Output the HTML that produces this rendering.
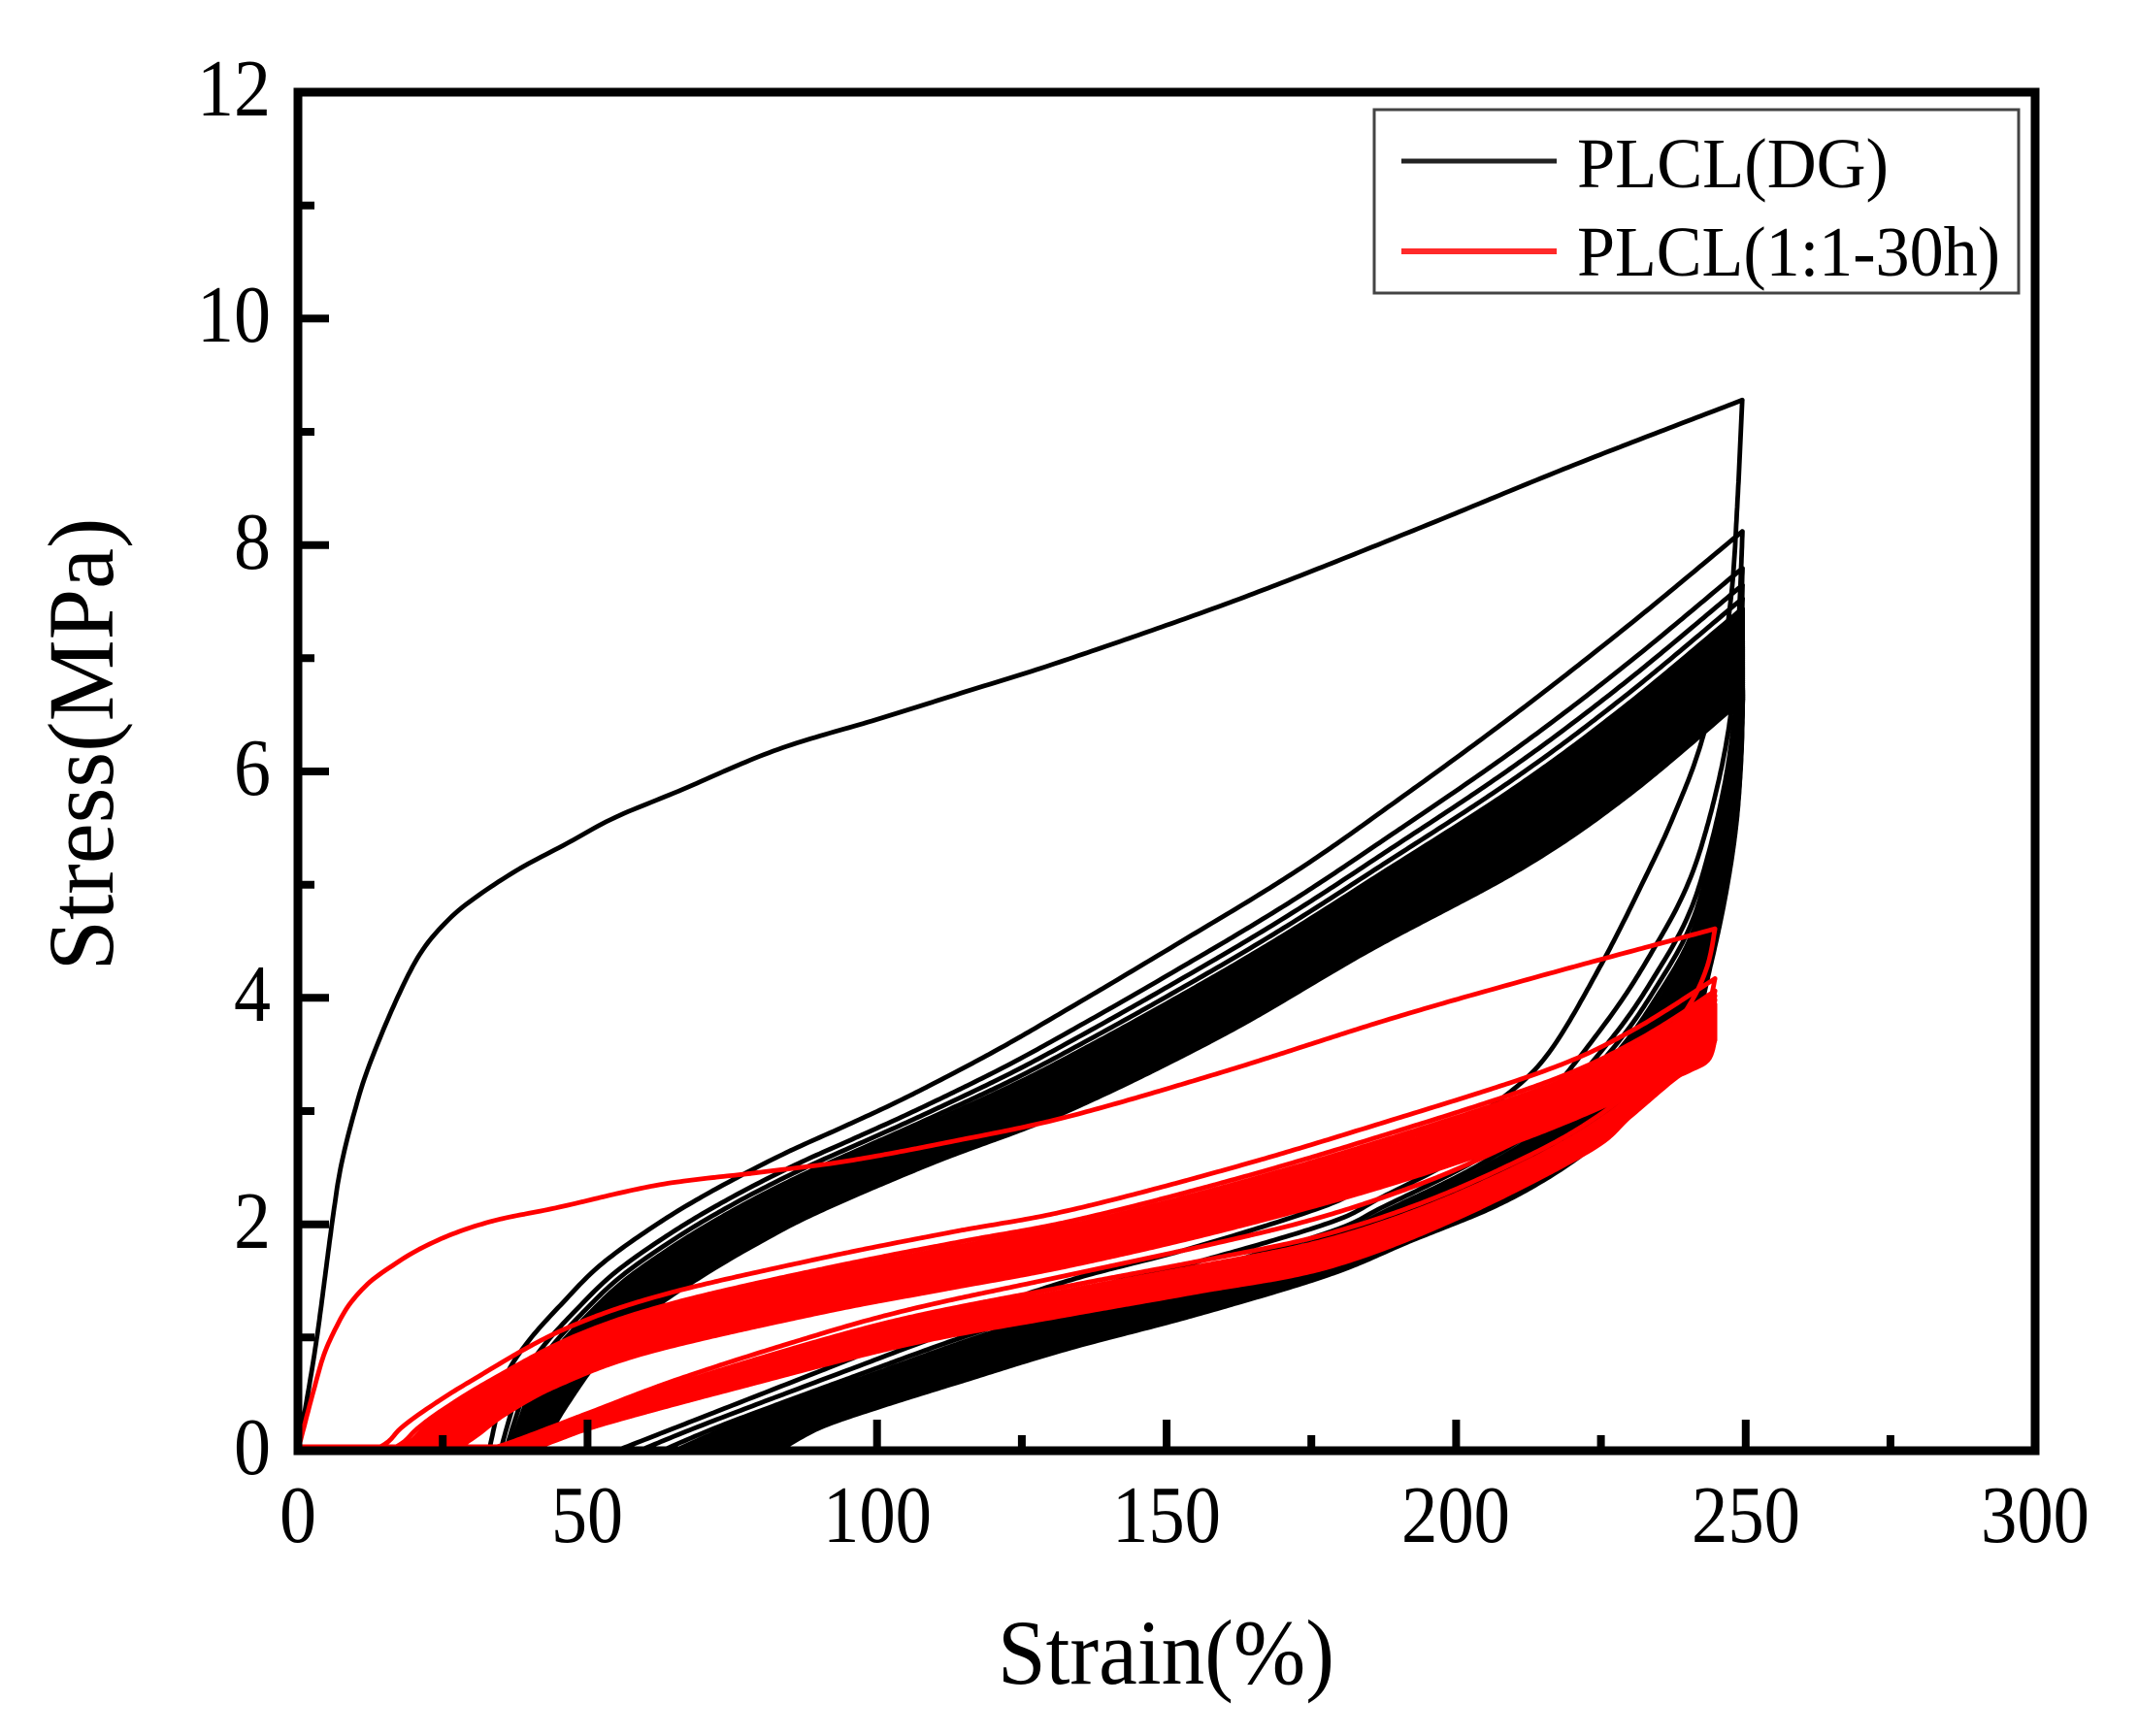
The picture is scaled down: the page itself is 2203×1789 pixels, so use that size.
<!DOCTYPE html>
<html><head><meta charset="utf-8">
<style>
html,body{margin:0;padding:0;background:#fff;}
svg{display:block;}
text{font-family:"Liberation Serif","Times New Roman",serif;fill:#000;}
</style></head>
<body>
<svg id="s" xmlns="http://www.w3.org/2000/svg" width="2203" height="1789" viewBox="0 0 2203 1789">
<rect width="2203" height="1789" fill="#fff"/>
<g id="blk" fill="none" stroke="#000" stroke-width="4.8" stroke-linejoin="round" stroke-linecap="round"></g>
<g id="red" fill="none" stroke="#ff0000" stroke-width="4.8" stroke-linejoin="round" stroke-linecap="round"></g>
<line x1="307" y1="1490" x2="545" y2="1490" stroke="#ff0000" stroke-width="3"/>
<g stroke="#000" fill="none">
 <rect x="307" y="95" width="1790" height="1400" stroke-width="9"/>
 <path stroke-width="8" d="M605.4 1495V1463M903.7 1495V1463M1202.1 1495V1463M1500.4 1495V1463M1798.8 1495V1463"/>
 <path stroke-width="8" d="M456.2 1495V1479M754.5 1495V1479M1052.9 1495V1479M1351.2 1495V1479M1649.6 1495V1479M1947.9 1495V1479"/>
 <path stroke-width="8" d="M307 1261.7H339M307 1028.3H339M307 795H339M307 561.7H339M307 328.3H339"/>
 <path stroke-width="8" d="M307 1378.3H324M307 1145H324M307 911.7H324M307 678.3H324M307 445H324M307 211.7H324"/>
</g>
<g font-size="84" text-anchor="end">
 <text x="279" y="1519" textLength="38" lengthAdjust="spacingAndGlyphs">0</text>
 <text x="279" y="1286" textLength="38" lengthAdjust="spacingAndGlyphs">2</text>
 <text x="279" y="1052" textLength="38" lengthAdjust="spacingAndGlyphs">4</text>
 <text x="279" y="819" textLength="38" lengthAdjust="spacingAndGlyphs">6</text>
 <text x="279" y="586" textLength="38" lengthAdjust="spacingAndGlyphs">8</text>
 <text x="279" y="352" textLength="76" lengthAdjust="spacingAndGlyphs">10</text>
 <text x="279" y="119" textLength="76" lengthAdjust="spacingAndGlyphs">12</text>
</g>
<g font-size="84" text-anchor="middle">
 <text x="307" y="1589" textLength="38" lengthAdjust="spacingAndGlyphs">0</text>
 <text x="605" y="1589" textLength="74" lengthAdjust="spacingAndGlyphs">50</text>
 <text x="904" y="1589" textLength="112" lengthAdjust="spacingAndGlyphs">100</text>
 <text x="1202" y="1589" textLength="112" lengthAdjust="spacingAndGlyphs">150</text>
 <text x="1500" y="1589" textLength="112" lengthAdjust="spacingAndGlyphs">200</text>
 <text x="1799" y="1589" textLength="112" lengthAdjust="spacingAndGlyphs">250</text>
 <text x="2097" y="1589" textLength="112" lengthAdjust="spacingAndGlyphs">300</text>
</g>
<text x="1028" y="1735" font-size="95" textLength="347" lengthAdjust="spacingAndGlyphs">Strain(%)</text>
<text transform="translate(116,767) rotate(-90)" text-anchor="middle" font-size="96" textLength="467" lengthAdjust="spacingAndGlyphs">Stress(MPa)</text>
<rect x="1416" y="113" width="664" height="189" fill="#fff" stroke="#444" stroke-width="3"/>
<line x1="1444" y1="166" x2="1604" y2="166" stroke="#222" stroke-width="5"/>
<line x1="1444" y1="259" x2="1604" y2="259" stroke="#ff2a2a" stroke-width="6"/>
<text x="1625" y="193" font-size="73" textLength="321" lengthAdjust="spacingAndGlyphs">PLCL(DG)</text>
<text x="1625" y="284" font-size="73" textLength="436" lengthAdjust="spacingAndGlyphs">PLCL(1:1-30h)</text>
</svg>
<script>
(function(){
var X0=307,XS=5.967,Y0=1495,YS=116.667;
function P(a){return a.map(function(p){return [X0+p[0]*XS, Y0-p[1]*YS];});}
function cr(pts,n){
 var out=[];
 for(var i=0;i<pts.length-1;i++){
  var p0=pts[Math.max(i-1,0)],p1=pts[i],p2=pts[i+1],p3=pts[Math.min(i+2,pts.length-1)];
  for(var j=0;j<n;j++){
   var t=j/n,t2=t*t,t3=t2*t,q=[0,0];
   for(var d=0;d<2;d++){
    q[d]=0.5*(2*p1[d]+(-p0[d]+p2[d])*t+(2*p0[d]-5*p1[d]+4*p2[d]-p3[d])*t2+(-p0[d]+3*p1[d]-3*p2[d]+p3[d])*t3);
   }
   out.push(q);
  }
 }
 out.push(pts[pts.length-1].slice());
 return out;
}
function rs(pts,m){
 var L=[0];
 for(var i=1;i<pts.length;i++){L.push(L[i-1]+Math.hypot(pts[i][0]-pts[i-1][0],pts[i][1]-pts[i-1][1]));}
 var tot=L[L.length-1],out=[],j=0;
 for(var k=0;k<m;k++){
  var s=tot*k/(m-1);
  while(j<pts.length-2&&L[j+1]<s)j++;
  var seg=L[j+1]-L[j],f=seg>0?(s-L[j])/seg:0;f=Math.min(1,Math.max(0,f));
  out.push([pts[j][0]+(pts[j+1][0]-pts[j][0])*f,pts[j][1]+(pts[j+1][1]-pts[j][1])*f]);
 }
 return out;
}
var M=400;
function C(a){return rs(cr(P(a),12),M);}
function mix(a,b,tf){var o=[];for(var i=0;i<a.length;i++){var t=tf(i/(a.length-1));o.push([a[i][0]+(b[i][0]-a[i][0])*t,a[i][1]+(b[i][1]-a[i][1])*t]);}return o;}
function dd(pts){var s='M'+pts[0][0].toFixed(1)+' '+pts[0][1].toFixed(1);for(var i=1;i<pts.length;i++)s+='L'+pts[i][0].toFixed(1)+' '+pts[i][1].toFixed(1);return s;}
function add(g,pts){var p=document.createElementNS('http://www.w3.org/2000/svg','path');p.setAttribute('d',dd(pts));g.appendChild(p);}
function ss(u){return u*u*(3-2*u);}
function fam(g,A,N){
 var L1=C(A.L1),U1=C(A.U1),R2=C(A.R2),RL=C(A.RL),UL=C(A.UL);
 var pk1=A.L1[A.L1.length-1][1],pk2=A.R2[A.R2.length-1][1],pkL=A.RL[A.RL.length-1][1];
 add(g,L1);add(g,U1);
 var ns=A.tr.length, nd=N-1-ns;
 for(var k=2;k<=N;k++){
  var j=k-2,tr,tb;
  if(j<ns){tr=A.tr[j];tb=A.tb[j];}
  else{var f=(j-ns)/(nd-1);tr=A.d0+(1-A.d0)*f;tb=A.b0+(1-A.b0)*f;}
  var Pk=pk2+(pkL-pk2)*tr;
  var tt=(pk1-Pk)/(pk1-pkL);
  add(g,mix(R2,RL,function(){return tr;}));
  add(g,mix(U1,UL,function(u){return tt+(tb-tt)*ss(u);}));
 }
}
var B={
 L1:[[0,0],[1.2,0.35],[3.3,1.01],[6,2.05],[7.5,2.53],[9.8,3.0],[12.2,3.39],[16.8,3.96],[21.1,4.39],[25.6,4.67],[30.2,4.87],[37.9,5.13],[46.3,5.36],[54.6,5.59],[65.9,5.83],[82.6,6.19],[100,6.46],[115,6.7],[132.9,6.99],[162.9,7.53],[192.7,8.13],[220,8.7],[249.4,9.28]],
 U1:[[249.4,9.28],[248.6,8.4],[247.6,7.6],[245.7,6.95],[242,6.2],[237.5,5.6],[233,5.1],[224.9,4.28],[215.2,3.46],[205,3.0],[196.4,2.7],[186,2.4],[177.8,2.17],[155,1.8],[132.9,1.5],[110,1.1],[90,0.7],[70,0.3],[55,0]],
 R2:[[33,0],[34.5,0.35],[36,0.67],[40,0.98],[45.6,1.3],[52,1.63],[60.5,1.95],[70,2.25],[83,2.6],[95,2.88],[105.4,3.13],[120,3.52],[132.9,3.9],[150,4.42],[171.8,5.1],[190,5.75],[210,6.5],[230,7.3],[249.4,8.12]],
 RL:[[42,0],[44,0.2],[47,0.45],[52,0.8],[60.5,1.22],[70,1.55],[80,1.85],[90.3,2.12],[110,2.55],[132.9,3.0],[160,3.68],[185,4.42],[211.5,5.15],[230,5.8],[249.5,6.64]],
 UL:[[249.5,6.64],[249.2,6.1],[248.3,5.5],[246.5,4.9],[244,4.3],[241.3,3.79],[236,3.35],[230,2.97],[220,2.55],[207.6,2.18],[192,1.85],[177.8,1.55],[155,1.2],[132.9,0.9],[115,0.62],[100,0.38],[90,0.2],[83,0]],
 tr:[0,0.22,0.32,0.4], tb:[0.14,0.28,0.36,0.42], d0:0.46, b0:0.46
};
var R={
 L1:[[0,0],[1.5,0.3],[2.7,0.53],[4.5,0.85],[6.7,1.1],[9,1.3],[12.2,1.48],[15.6,1.61],[20.6,1.77],[27,1.92],[34.5,2.04],[45,2.15],[62.5,2.35],[80,2.46],[95,2.56],[112.8,2.73],[132.9,2.95],[160,3.35],[189,3.82],[215,4.2],[244.7,4.61]],
 U1:[[244.7,4.61],[243.5,4.3],[241,4.0],[237,3.7],[232,3.45],[222,3.05],[210,2.72],[195,2.38],[177.8,2.08],[160,1.85],[132.9,1.55],[105,1.24],[85,0.95],[65,0.62],[50,0.33],[36,0.06],[31,0]],
 R2:[[13,0],[15.6,0.08],[17.8,0.2],[22,0.36],[30,0.62],[45,1.05],[62.5,1.37],[90.3,1.7],[112.8,1.93],[132.9,2.12],[160,2.48],[185,2.86],[215,3.35],[230,3.7],[244.7,4.17]],
 RL:[[27,0],[31,0.14],[36,0.33],[45,0.58],[60.5,0.87],[90.3,1.22],[112,1.43],[132.9,1.63],[160,1.95],[189,2.36],[215,2.82],[235,3.28],[244.7,3.63]],
 UL:[[244.7,3.63],[243.5,3.45],[240,3.35],[237.6,3.28],[230,2.95],[222.7,2.64],[200,2.05],[177.8,1.62],[155,1.4],[132.9,1.2],[105.4,0.94],[75.4,0.55],[53,0.24],[45,0.1],[40,0]],
 tr:[0,0.2,0.28,0.35], tb:[0.15,0.27,0.34,0.4], d0:0.42, b0:0.45
};
fam(document.getElementById('blk'),B,50);
fam(document.getElementById('red'),R,50);
})();
</script>
</body></html>
